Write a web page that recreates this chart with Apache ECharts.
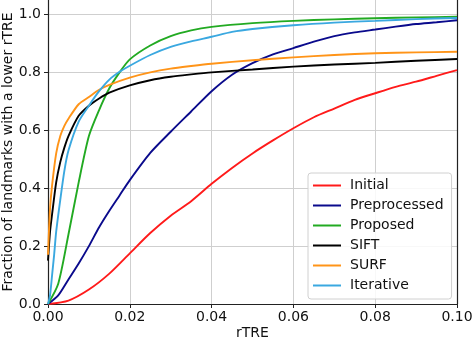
<!DOCTYPE html>
<html>
<head>
<meta charset="utf-8">
<script src="https://cdn.jsdelivr.net/npm/echarts@6/dist/echarts.min.js"></script>
<style>
html,body{margin:0;padding:0;background:#fff;}
#chart{width:474px;height:344px;}
</style>
</head>
<body>
<div id="chart"></div>
<script>
const seriesNames = ["Initial", "Preprocessed", "Proposed", "SIFT", "SURF", "Iterative"];
const seriesColors = ["#ff1a1a", "#0a0a8c", "#22aa22", "#000000", "#ff9418", "#3aa8e0"];

const initialX = [0, 0.005, 0.01, 0.015, 0.02, 0.025, 0.03, 0.035, 0.04, 0.045, 0.05, 0.055, 0.06, 0.065, 0.07, 0.075, 0.08, 0.085, 0.09, 0.095, 0.1];
const initialY = [0, 0.012, 0.05, 0.105, 0.175, 0.245, 0.305, 0.355, 0.415, 0.47, 0.52, 0.565, 0.607, 0.645, 0.675, 0.705, 0.728, 0.75, 0.768, 0.788, 0.808];

const preprocessedX = [0, 0.0025, 0.005, 0.0075, 0.01, 0.0125, 0.015, 0.0175, 0.02, 0.025, 0.03, 0.035, 0.04, 0.045, 0.05, 0.055, 0.06, 0.065, 0.07, 0.075, 0.08, 0.085, 0.09, 0.095, 0.1];
const preprocessedY = [0, 0.03, 0.085, 0.14, 0.2, 0.265, 0.322, 0.375, 0.428, 0.522, 0.595, 0.665, 0.735, 0.792, 0.832, 0.862, 0.884, 0.906, 0.925, 0.938, 0.948, 0.958, 0.967, 0.973, 0.98];

const proposedX = [0, 0.0025, 0.005, 0.0075, 0.01, 0.0125, 0.015, 0.0175, 0.02, 0.025, 0.03, 0.035, 0.04, 0.05, 0.06, 0.07, 0.08, 0.09, 0.1];
const proposedY = [0, 0.07, 0.24, 0.42, 0.58, 0.67, 0.745, 0.8, 0.845, 0.893, 0.925, 0.945, 0.957, 0.97, 0.978, 0.983, 0.987, 0.99, 0.992];

const siftX = [0, 0.0005, 0.001, 0.002, 0.003, 0.004, 0.005, 0.0075, 0.01, 0.0125, 0.015, 0.02, 0.025, 0.03, 0.035, 0.04, 0.05, 0.06, 0.07, 0.08, 0.09, 0.1];
const siftY = [0.15, 0.25, 0.31, 0.42, 0.49, 0.54, 0.58, 0.65, 0.685, 0.71, 0.73, 0.755, 0.773, 0.785, 0.793, 0.8, 0.81, 0.82, 0.827, 0.833, 0.84, 0.846];

const surfX = [0, 0.0005, 0.001, 0.002, 0.003, 0.004, 0.005, 0.0075, 0.01, 0.0125, 0.015, 0.02, 0.025, 0.03, 0.035, 0.04, 0.05, 0.06, 0.07, 0.08, 0.09, 0.1];
const surfY = [0.17, 0.33, 0.41, 0.52, 0.58, 0.615, 0.64, 0.69, 0.715, 0.74, 0.757, 0.782, 0.8, 0.813, 0.822, 0.83, 0.842, 0.852, 0.86, 0.866, 0.869, 0.871];

const iterativeX = [0, 0.0005, 0.001, 0.0015, 0.002, 0.003, 0.004, 0.005, 0.0075, 0.01, 0.0125, 0.015, 0.0175, 0.02, 0.025, 0.03, 0.035, 0.04, 0.045, 0.05, 0.06, 0.07, 0.08, 0.09, 0.1];
const iterativeY = [0, 0.03, 0.1, 0.17, 0.25, 0.36, 0.46, 0.53, 0.63, 0.685, 0.735, 0.775, 0.802, 0.823, 0.86, 0.888, 0.907, 0.923, 0.94, 0.95, 0.963, 0.972, 0.978, 0.984, 0.988];

const xTicks = ["0.00", "0.02", "0.04", "0.06", "0.08", "0.10"];
const yTicks = ["0.0", "0.2", "0.4", "0.6", "0.8", "1.0"];

const allX = [initialX, preprocessedX, proposedX, siftX, surfX, iterativeX];
const allY = [initialY, preprocessedY, proposedY, siftY, surfY, iterativeY];

const font = "DejaVu Sans";
const chart = echarts.init(document.getElementById('chart'), null, {renderer: 'canvas'});

const series = seriesNames.map((name, i) => ({
  name: name,
  type: 'line',
  data: allX[i].map((x, j) => [x, allY[i][j]]),
  showSymbol: false,
  symbol: 'none',
  smooth: 0.25,
  lineStyle: {color: seriesColors[i], width: 1.9},
  itemStyle: {color: seriesColors[i]},
  clip: true,
  z: 3 + i
}));

chart.setOption({
  animation: false,
  backgroundColor: '#fff',
  grid: {left: 48, right: 17, top: 0, bottom: 40, containLabel: false, outerBoundsMode: 'none'},
  xAxis: {
    type: 'value', min: 0, max: 0.1, interval: 0.02,
    name: 'rTRE', nameLocation: 'middle', nameGap: 22, nameMoveOverlap: false,
    nameTextStyle: {fontFamily: font, fontSize: 14, color: '#111'},
    axisLine: {show: true, lineStyle: {color: '#222', width: 1.2}},
    axisTick: {show: true, length: 4, lineStyle: {color: '#222'}},
    axisLabel: {fontFamily: font, fontSize: 14, color: '#111', margin: 6,
      formatter: v => xTicks[Math.round(v / 0.02)] || ''},
    splitLine: {show: true, lineStyle: {color: '#cfcfcf', width: 1}}
  },
  yAxis: [{
    type: 'value', min: 0, max: 1.05, interval: 0.2,
    name: 'Fraction of landmarks with a lower rTRE', nameLocation: 'middle', nameGap: 33, nameMoveOverlap: false,
    nameTextStyle: {fontFamily: font, fontSize: 14, color: '#111'},
    axisLine: {show: true, lineStyle: {color: '#222', width: 1.2}},
    axisTick: {show: true, length: 4, lineStyle: {color: '#222'}},
    axisLabel: {fontFamily: font, fontSize: 14, color: '#111', margin: 7, showMaxLabel: false,
      formatter: v => (v > 1.001 ? '' : (yTicks[Math.round(v / 0.2)] || ''))},
    splitLine: {show: true, showMaxLine: false, lineStyle: {color: '#cfcfcf', width: 1}}
  }, {
    type: 'value', min: 0, max: 1.05, position: 'right',
    axisLine: {show: true, onZero: false, lineStyle: {color: '#222', width: 1.2}},
    axisTick: {show: false}, axisLabel: {show: false}, splitLine: {show: false}
  }],
  legend: {
    orient: 'vertical', left: 308, top: 173,
    data: seriesNames.map(n => ({name: n, icon: 'rect'})),
    itemWidth: 28, itemHeight: 2, itemGap: 5,
    padding: [5, 8, 6, 5],
    backgroundColor: 'rgba(255,255,255,0.85)',
    borderColor: '#d0d0d0', borderWidth: 1, borderRadius: 3,
    textStyle: {fontFamily: font, fontSize: 14, color: '#111', lineHeight: 15, padding: [0, 0, 0, 4]}
  },
  series: series
});
</script>
</body>
</html>
